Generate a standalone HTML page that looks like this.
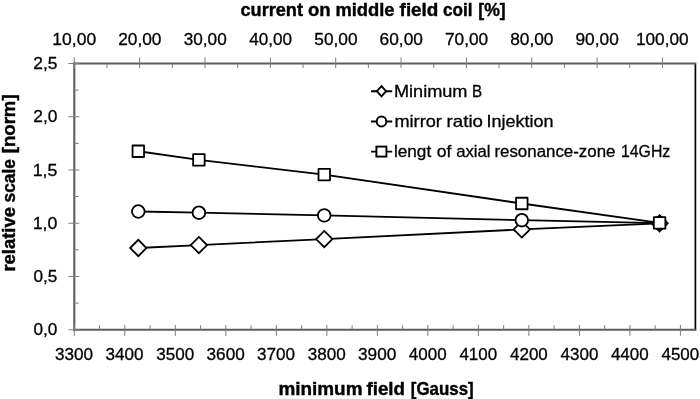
<!DOCTYPE html>
<html><head><meta charset="utf-8"><title>chart</title>
<style>
html,body{margin:0;padding:0;background:#fff;}
body{width:700px;height:399px;overflow:hidden;}
svg{display:block;}
text{font-family:"Liberation Sans",Arial,sans-serif;fill:#000;stroke:#000;stroke-width:0.3px;}
.b{font-weight:bold;stroke-width:0.4px;}
</style></head><body>
<svg width="700" height="399" viewBox="0 0 700 399">
<rect x="0" y="0" width="700" height="399" fill="#fff"/>
<path d="M695.4 63.5 V330.60" stroke="#000" stroke-width="1.7" fill="none"/>
<g stroke="#5c5c5c" fill="none">
<path d="M74.3 330.7 V62.5" stroke-width="2.1"/>
<path d="M73.3 63.5 H696.25" stroke-width="2.1"/>
<path d="M73.3 329.7 H696.25" stroke-width="2.1"/>
<path d="M74.30 57.5 V68.1 M106.97 63.5 V68.0 M139.65 57.5 V68.1 M172.32 63.5 V68.0 M205.00 57.5 V68.1 M237.68 63.5 V68.0 M270.35 57.5 V68.1 M303.02 63.5 V68.0 M335.70 57.5 V68.1 M368.38 63.5 V68.0 M401.05 57.5 V68.1 M433.73 63.5 V68.0 M466.40 57.5 V68.1 M499.07 63.5 V68.0 M531.75 57.5 V68.1 M564.42 63.5 V68.0 M597.10 57.5 V68.1 M629.77 63.5 V68.0 M662.45 57.5 V68.1 M74.30 325.0 V335.8 M99.55 325.2 V329.7 M124.81 325.0 V335.8 M150.06 325.2 V329.7 M175.32 325.0 V335.8 M200.57 325.2 V329.7 M225.83 325.0 V335.8 M251.08 325.2 V329.7 M276.34 325.0 V335.8 M301.59 325.2 V329.7 M326.85 325.0 V335.8 M352.10 325.2 V329.7 M377.36 325.0 V335.8 M402.62 325.2 V329.7 M427.87 325.0 V335.8 M453.12 325.2 V329.7 M478.38 325.0 V335.8 M503.63 325.2 V329.7 M528.89 325.0 V335.8 M554.14 325.2 V329.7 M579.40 325.0 V335.8 M604.65 325.2 V329.7 M629.91 325.0 V335.8 M655.16 325.2 V329.7 M680.42 325.0 V335.8 M68.3 329.70 H79.3 M74.3 303.08 H78.8 M68.3 276.46 H79.3 M74.3 249.84 H78.8 M68.3 223.22 H79.3 M74.3 196.60 H78.8 M68.3 169.98 H79.3 M74.3 143.36 H78.8 M68.3 116.74 H79.3 M74.3 90.12 H78.8 M68.3 63.50 H79.3" stroke-width="1" stroke="#7c7c7c"/>
</g>
<g font-size="17.0">
<text><tspan x="52.35" y="45.00" textLength="43.80" lengthAdjust="spacingAndGlyphs">10,00</tspan></text>
<text><tspan x="118.15" y="45.00" textLength="43.30" lengthAdjust="spacingAndGlyphs">20,00</tspan></text>
<text><tspan x="183.70" y="45.00" textLength="43.05" lengthAdjust="spacingAndGlyphs">30,00</tspan></text>
<text><tspan x="249.25" y="45.00" textLength="42.80" lengthAdjust="spacingAndGlyphs">40,00</tspan></text>
<text><tspan x="314.30" y="45.00" textLength="43.30" lengthAdjust="spacingAndGlyphs">50,00</tspan></text>
<text><tspan x="379.60" y="45.00" textLength="43.30" lengthAdjust="spacingAndGlyphs">60,00</tspan></text>
<text><tspan x="444.90" y="45.00" textLength="43.30" lengthAdjust="spacingAndGlyphs">70,00</tspan></text>
<text><tspan x="510.20" y="45.00" textLength="43.30" lengthAdjust="spacingAndGlyphs">80,00</tspan></text>
<text><tspan x="575.50" y="45.00" textLength="43.30" lengthAdjust="spacingAndGlyphs">90,00</tspan></text>
<text><tspan x="635.95" y="45.00" textLength="52.75" lengthAdjust="spacingAndGlyphs">100,00</tspan></text>
<text><tspan x="55.05" y="360.00" textLength="38.00" lengthAdjust="spacingAndGlyphs">3300</tspan></text>
<text><tspan x="105.63" y="360.00" textLength="38.00" lengthAdjust="spacingAndGlyphs">3400</tspan></text>
<text><tspan x="156.21" y="360.00" textLength="38.00" lengthAdjust="spacingAndGlyphs">3500</tspan></text>
<text><tspan x="206.54" y="360.00" textLength="38.25" lengthAdjust="spacingAndGlyphs">3600</tspan></text>
<text><tspan x="257.12" y="360.00" textLength="38.00" lengthAdjust="spacingAndGlyphs">3700</tspan></text>
<text><tspan x="307.70" y="360.00" textLength="38.00" lengthAdjust="spacingAndGlyphs">3800</tspan></text>
<text><tspan x="358.03" y="360.00" textLength="38.25" lengthAdjust="spacingAndGlyphs">3900</tspan></text>
<text><tspan x="408.86" y="360.00" textLength="37.75" lengthAdjust="spacingAndGlyphs">4000</tspan></text>
<text><tspan x="459.44" y="360.00" textLength="37.75" lengthAdjust="spacingAndGlyphs">4100</tspan></text>
<text><tspan x="510.02" y="360.00" textLength="37.75" lengthAdjust="spacingAndGlyphs">4200</tspan></text>
<text><tspan x="560.60" y="360.00" textLength="37.75" lengthAdjust="spacingAndGlyphs">4300</tspan></text>
<text><tspan x="610.93" y="360.00" textLength="37.75" lengthAdjust="spacingAndGlyphs">4400</tspan></text>
<text><tspan x="661.51" y="360.00" textLength="37.75" lengthAdjust="spacingAndGlyphs">4500</tspan></text>
<text><tspan x="33.50" y="335.00" textLength="23.90" lengthAdjust="spacingAndGlyphs">0,0</tspan></text>
<text><tspan x="33.50" y="282.00" textLength="23.90" lengthAdjust="spacingAndGlyphs">0,5</tspan></text>
<text><tspan x="32.75" y="229.00" textLength="24.65" lengthAdjust="spacingAndGlyphs">1,0</tspan></text>
<text><tspan x="32.75" y="176.00" textLength="24.65" lengthAdjust="spacingAndGlyphs">1,5</tspan></text>
<text><tspan x="33.25" y="122.00" textLength="24.15" lengthAdjust="spacingAndGlyphs">2,0</tspan></text>
<text><tspan x="33.25" y="69.00" textLength="24.15" lengthAdjust="spacingAndGlyphs">2,5</tspan></text>
</g>
<text class="b" font-size="18.5"><tspan x="240.50" y="16.00" textLength="62.50" lengthAdjust="spacingAndGlyphs">current</tspan> <tspan x="307.95" y="16.00" textLength="22.70" lengthAdjust="spacingAndGlyphs">on</tspan> <tspan x="335.40" y="16.00" textLength="59.10" lengthAdjust="spacingAndGlyphs">middle</tspan> <tspan x="399.60" y="16.00" textLength="38.80" lengthAdjust="spacingAndGlyphs">field</tspan> <tspan x="442.90" y="16.00" textLength="29.55" lengthAdjust="spacingAndGlyphs">coil</tspan> <tspan x="478.30" y="16.00" textLength="27.35" lengthAdjust="spacingAndGlyphs">[%]</tspan></text>
<text class="b" font-size="18.5"><tspan x="278.40" y="395.00" textLength="84.10" lengthAdjust="spacingAndGlyphs">minimum</tspan> <tspan x="366.50" y="395.00" textLength="38.50" lengthAdjust="spacingAndGlyphs">field</tspan> <tspan x="410.75" y="395.00" textLength="63.00" lengthAdjust="spacingAndGlyphs">[Gauss]</tspan></text>
<text class="b" font-size="18.5" transform="translate(14.7 270.7) rotate(-90)"><tspan x="-0.90" y="0" textLength="64.60" lengthAdjust="spacingAndGlyphs">relative</tspan> <tspan x="68.20" y="0" textLength="43.50" lengthAdjust="spacingAndGlyphs">scale</tspan> <tspan x="117.45" y="0" textLength="58.85" lengthAdjust="spacingAndGlyphs">[norm]</tspan></text>
<g stroke="#000" stroke-width="1.8" fill="#fff" stroke-linejoin="miter">
<polyline points="138.30,248.00 198.90,245.10 324.25,239.10 521.80,229.40 659.60,223.30" fill="none"/>
<path d="M130.15 248.00 L138.30 239.85 L146.45 248.00 L138.30 256.15 Z"/>
<path d="M190.75 245.10 L198.90 236.95 L207.05 245.10 L198.90 253.25 Z"/>
<path d="M316.10 239.10 L324.25 230.95 L332.40 239.10 L324.25 247.25 Z"/>
<path d="M513.65 229.40 L521.80 221.25 L529.95 229.40 L521.80 237.55 Z"/>
<path d="M651.45 223.30 L659.60 215.15 L667.75 223.30 L659.60 231.45 Z"/>
<polyline points="138.30,211.50 198.90,212.70 324.25,215.40 521.80,220.20 659.60,223.20" fill="none"/>
<circle cx="138.30" cy="211.50" r="6.3"/>
<circle cx="198.90" cy="212.70" r="6.3"/>
<circle cx="324.25" cy="215.40" r="6.3"/>
<circle cx="521.80" cy="220.20" r="6.3"/>
<circle cx="659.60" cy="223.20" r="6.3"/>
<polyline points="138.30,151.25 198.90,159.90 324.25,174.60 521.80,203.50 659.60,222.90" fill="none"/>
<rect x="132.55" y="145.50" width="11.5" height="11.5" stroke-linejoin="round"/>
<rect x="193.15" y="154.15" width="11.5" height="11.5" stroke-linejoin="round"/>
<rect x="318.50" y="168.85" width="11.5" height="11.5" stroke-linejoin="round"/>
<rect x="516.05" y="197.75" width="11.5" height="11.5" stroke-linejoin="round"/>
<rect x="653.85" y="217.15" width="11.5" height="11.5" stroke-linejoin="round"/>
</g>
<g stroke="#000" stroke-width="1.9" fill="#fff">
<path d="M371 91.2 H392.2 M371 121.5 H392.2 M371 151.6 H392.2" fill="none"/>
<path d="M376.9 91.2 L381.5 86.10000000000001 L386.1 91.2 L381.5 96.3 Z"/>
<ellipse cx="381.5" cy="121.5" rx="4.8" ry="5.05"/>
<rect x="376.4" y="146.6" width="10" height="10"/>
</g>
<text font-size="17.0"><tspan x="393.90" y="97.00" textLength="73.60" lengthAdjust="spacingAndGlyphs">Minimum</tspan> <tspan x="472.10" y="97.00" textLength="10.10" lengthAdjust="spacingAndGlyphs">B</tspan></text>
<text font-size="17.0"><tspan x="394.40" y="127.00" textLength="47.50" lengthAdjust="spacingAndGlyphs">mirror</tspan> <tspan x="446.60" y="127.00" textLength="36.35" lengthAdjust="spacingAndGlyphs">ratio</tspan> <tspan x="486.55" y="127.00" textLength="66.95" lengthAdjust="spacingAndGlyphs">Injektion</tspan></text>
<text font-size="17.0"><tspan x="394.00" y="157.00" textLength="37.15" lengthAdjust="spacingAndGlyphs">lengt</tspan> <tspan x="436.70" y="157.00" textLength="14.60" lengthAdjust="spacingAndGlyphs">of</tspan> <tspan x="456.15" y="157.00" textLength="34.45" lengthAdjust="spacingAndGlyphs">axial</tspan> <tspan x="494.40" y="157.00" textLength="121.10" lengthAdjust="spacingAndGlyphs">resonance-zone</tspan> <tspan x="621.00" y="157.00" textLength="49.30" lengthAdjust="spacingAndGlyphs">14GHz</tspan></text>
</svg>
</body></html>
